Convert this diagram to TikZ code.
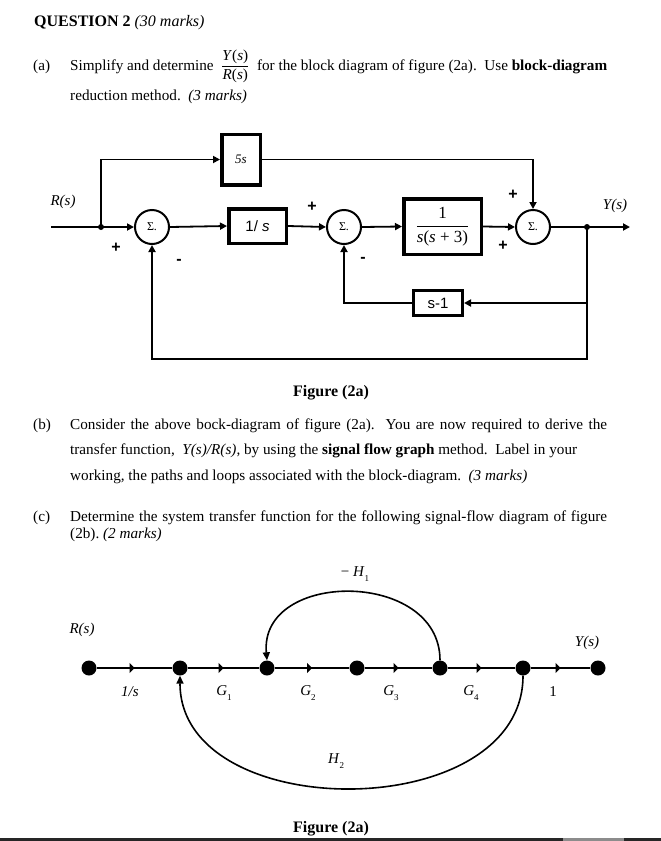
\documentclass[tikz,border=0pt]{standalone}
\usepackage{fontspec}
\setmainfont{Liberation Serif}
\setsansfont{Liberation Sans}
\usetikzlibrary{arrows.meta,decorations.markings}
\newcommand\bodyfont{\fontsize{15.2}{18}\selectfont}
\newcommand\gsub[2]{\textit{#1}\raisebox{-0.35em}{\fontsize{9}{9}\selectfont #2}}
\begin{document}
\begin{tikzpicture}[x=1pt,y=-1pt,
  txt/.style={font=\bodyfont, inner sep=0, anchor=base west},
  blk/.style={draw, line width=3.5pt, inner sep=0, fill=white},
  sumc/.style={draw, circle, line width=2pt, minimum size=34pt, inner sep=0, font=\fontsize{12}{12}\selectfont},
  wire/.style={line width=1.8pt, -{Triangle[length=7pt,width=7pt]}},
  jdot/.style={circle, fill=black, inner sep=0, minimum size=6pt},
  sgn/.style={font=\sffamily\bfseries\fontsize{16}{16}\selectfont, inner sep=0},
  sflab/.style={font=\fontsize{15}{15}\selectfont, inner sep=0},
  sfnode/.style={circle, fill=black, inner sep=0, minimum size=15pt},
  sfedge/.style={line width=1.2pt, postaction={decorate},
    decoration={markings, mark=at position 0.5 with {\arrow{Triangle[length=5pt,width=10pt]}}}},
  sfarc/.style={line width=1.6pt, -{Triangle[length=8pt,width=7pt]}}
]
\useasboundingbox (0,0) rectangle (661,841);
\fill[white] (0,0) rectangle (661,841);

% ---------- text ----------
\node[txt, font=\fontsize{16}{18}\selectfont] (q) at (34,26) {\textbf{QUESTION 2} \textit{(30 marks)}};
\node[txt] (la) at (33,70) {(a)};
\node[txt] (a1) at (70,70) {\makebox[537pt][s]{Simplify and determine\ \ $\displaystyle\frac{\mbox{\textit{Y}(\textit{s})}}{\mbox{\textit{R}(\textit{s})}}$\ \ for the block diagram of figure (2a).\ \ Use \textbf{block-diagram}}};
\node[txt] (a2) at (70,100) {reduction method.\ \ \textit{(3 marks)}};

\node[font=\fontsize{16}{18}\selectfont\bfseries, inner sep=0, anchor=base] (f1) at (331,396) {Figure (2a)};

\node[txt] (lb) at (33,429) {(b)};
\node[txt] (b1) at (70,429) {\makebox[537pt][s]{Consider the above bock-diagram of figure (2a).\ \ You are now required to derive the}};
\node[txt] (b2) at (70,454) {transfer function,\ \ \textit{Y(s)/R(s)}, by using the \textbf{signal flow graph} method.\ \ Label in your};
\node[txt] (b3) at (70,480) {working, the paths and loops associated with the block-diagram.\ \ \textit{(3 marks)}};

\node[txt] (lc) at (33,521) {(c)};
\node[txt] (c1) at (70,521) {\makebox[537pt][s]{Determine the system transfer function for the following signal-flow diagram of figure}};
\node[txt] (c2) at (70,538) {(2b).\ \textit{(2 marks)}};

\node[font=\fontsize{16}{18}\selectfont\bfseries, inner sep=0, anchor=base] (f2) at (331,832) {Figure (2a)};

% ---------- block diagram ----------
\coordinate (rin) at (51,227);
\node[jdot] (j1) at (101,227) {};
\node[sumc] (s1) at (152,227) {Σ.};
\node[blk, minimum width=57.5pt, minimum height=34.5pt, font=\sffamily\fontsize{15}{15}\selectfont] (g1) at (257.5,226) {1/ \textit{s}};
\node[sumc] (s2) at (344,227) {Σ.};
\node[blk, minimum width=77.5pt, minimum height=55.5pt, font=\fontsize{17}{17}\selectfont] (g2) at (442.5,226.5) {$\displaystyle\frac{\mbox{1}}{\mbox{\textit{s}(\textit{s} + 3)}}$};
\node[sumc] (s3) at (533,227) {Σ.};
\node[jdot] (jo) at (587,227) {};
\coordinate (yout) at (630,227);
\node[blk, minimum width=38.5pt, minimum height=50.5pt, font=\itshape\fontsize{13}{13}\selectfont] (g5) at (241,159.5) {5s};
\node[blk, line width=3pt, minimum width=49pt, minimum height=25pt, font=\sffamily\fontsize{15}{15}\selectfont] (g3) at (438,303) {s-1};
\coordinate (fb) at (587,359);

\draw[wire] (rin) -- (s1.west);
\draw[wire] (j1.center) |- (g5.west);
\draw[wire] (s1.east) -- (g1.west);
\draw[wire] (g1.east) -- (s2.west);
\draw[wire] (s2.east) -- (g2.west);
\draw[wire] (g2.east) -- (s3.west);
\draw[wire] (g5.east) -| (s3.north);
\draw[wire] (s3.east) -- (yout);
\draw[wire] (jo.center) |- (g3.east);
\draw[wire] (g3.west) -| (s2.south);
\draw[wire] (jo.center) -- (fb) -| (s1.south);

\node[font=\itshape\fontsize{15}{15}\selectfont, inner sep=0] (rs) at (63,202) {R(s)};
\node[font=\itshape\fontsize{15}{15}\selectfont, inner sep=0] (ys) at (615,206) {Y(s)};
\node[sgn] (p1) at (116,248) {+};
\node[sgn] (m1) at (179,262) {-};
\node[sgn] (p2) at (312,207) {+};
\node[sgn] (m2) at (363,260) {-};
\node[sgn] (p3) at (513,195) {+};
\node[sgn] (p4) at (503,246) {+};

% ---------- signal flow graph ----------
\node[sfnode] (n1) at (89,668) {};
\node[sfnode] (n2) at (180,668) {};
\node[sfnode] (n3) at (267,668) {};
\node[sfnode] (n4) at (357,668) {};
\node[sfnode] (n5) at (440,668) {};
\node[sfnode] (n6) at (523,668) {};
\node[sfnode] (n7) at (598,668) {};
\draw[sfedge] (n1) -- (n2);
\draw[sfedge] (n2) -- (n3);
\draw[sfedge] (n3) -- (n4);
\draw[sfedge] (n4) -- (n5);
\draw[sfedge] (n5) -- (n6);
\draw[sfedge] (n6) -- (n7);
\draw[sfarc] (n5.north) to[out=90,in=95,looseness=1.35] (n3.north);
\draw[sfarc] (n6.south) to[out=-90,in=-90,looseness=1.12] (n2.south);

\node[sflab, font=\itshape\fontsize{15}{15}\selectfont] (lr) at (82,630) {R(s)};
\node[sflab, font=\itshape\fontsize{15}{15}\selectfont] (ly) at (587,643) {Y(s)};
\node[sflab, font=\itshape\fontsize{15}{15}\selectfont] (l0) at (130,692) {1/s};
\node[sflab] (l1) at (224,693) {\gsub{G}{1}};
\node[sflab] (l2) at (308,693) {\gsub{G}{2}};
\node[sflab] (l3) at (391,693) {\gsub{G}{3}};
\node[sflab] (l4) at (471,693) {\gsub{G}{4}};
\node[sflab] (l5) at (553,692) {1};
\node[sflab] (lh1) at (355,574) {− \gsub{H}{1}};
\node[sflab] (lh2) at (336,761) {\gsub{H}{2}};

% bottom bar
\fill[black!85] (0,838) rectangle (661,841);
\fill[black!45] (563,838) rectangle (624,841);
\end{tikzpicture}
\end{document}
